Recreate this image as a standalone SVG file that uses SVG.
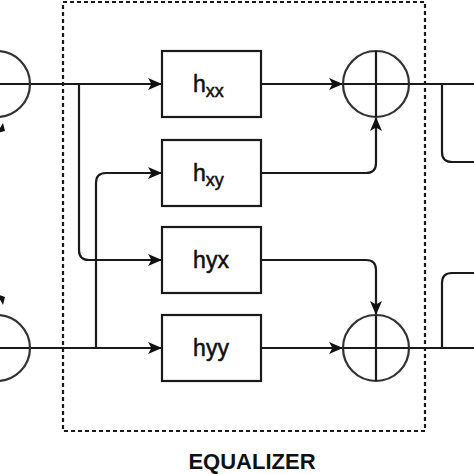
<svg xmlns="http://www.w3.org/2000/svg" width="474" height="474" viewBox="0 0 474 474">
<defs>
<marker id="arr" viewBox="0 0 14 12" refX="13" refY="6" markerWidth="14" markerHeight="12" markerUnits="userSpaceOnUse" orient="auto">
<path d="M0,0 L14,6 L0,12 L3.5,6 z" fill="#111"/>
</marker>
<style>
.ln{fill:none;stroke:#1a1a1a;stroke-width:2.2}
.box{fill:#fff;stroke:#1a1a1a;stroke-width:2.2}
.sum{fill:none;stroke:#333;stroke-width:2.2}
.lbl{font-family:"Liberation Sans",Arial,sans-serif;font-size:23px;fill:#111;stroke:#111;stroke-width:0.5}
.sub{font-size:18px}
</style>
</defs>
<rect width="474" height="474" fill="#fff"/>
<rect id="equalizer" x="63" y="2" width="362" height="429" fill="none" stroke="#1a1a1a" stroke-width="2.2" stroke-dasharray="4 3"/>
<g id="connectors">
<path class="ln" d="M-10,84 H161" marker-end="url(#arr)"/>
<path class="ln" d="M79,84 V250 Q79,260 89,260 H161" marker-end="url(#arr)"/>
<path class="ln" d="M-10,348 H161" marker-end="url(#arr)"/>
<path class="ln" d="M96,348 V183 Q96,173 106,173 H161" marker-end="url(#arr)"/>
<path class="ln" d="M261,84 H342" marker-end="url(#arr)"/>
<path class="ln" d="M261,173 H366 Q376,173 376,163 V118" marker-end="url(#arr)"/>
<path class="ln" d="M261,260 H366 Q376,260 376,270 V314" marker-end="url(#arr)"/>
<path class="ln" d="M261,348 H342" marker-end="url(#arr)"/>
<path class="ln" d="M409,84 H474"/>
<path class="ln" d="M442,84 V152 Q442,162 452,162 H474"/>
<path class="ln" d="M409,348 H474"/>
<path class="ln" d="M442,348 V283 Q442,273 452,273 H474"/>
<path d="M-3,133 L3,123 L5,131 z" fill="#111"/>
<path d="M-3,294 L3,305 L5,297 z" fill="#111"/>
</g>
<g id="in-x"><circle class="sum" cx="-3" cy="84" r="33"/></g>
<g id="in-y"><circle class="sum" cx="-3" cy="348" r="33"/></g>
<g id="hxx"><rect class="box" x="162" y="51" width="99" height="66"/><text class="lbl" x="193" y="92">h<tspan class="sub" dy="5">xx</tspan></text></g>
<g id="hxy"><rect class="box" x="162" y="140" width="99" height="66"/><text class="lbl" x="193" y="181">h<tspan class="sub" dy="5">xy</tspan></text></g>
<g id="hyx"><rect class="box" x="162" y="227" width="99" height="66"/><text class="lbl" x="211" y="268" text-anchor="middle">hyx</text></g>
<g id="hyy"><rect class="box" x="162" y="315" width="99" height="66"/><text class="lbl" x="211" y="356" text-anchor="middle">hyy</text></g>
<g id="sum-x"><circle class="sum" cx="376" cy="84" r="33"/><path class="ln" d="M343,84 H409 M376,51 V117"/></g>
<g id="sum-y"><circle class="sum" cx="376" cy="348" r="33"/><path class="ln" d="M343,348 H409 M376,315 V381"/></g>
<text x="252" y="469" text-anchor="middle" font-family="Liberation Sans, Arial, sans-serif" font-size="22" font-weight="bold" fill="#111">EQUALIZER</text>
</svg>
